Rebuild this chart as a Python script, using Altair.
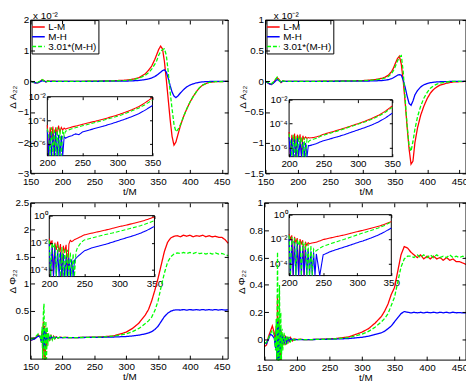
import altair as alt
import pandas as pd

SERIES = ["L-M", "M-H", "3.01*(M-H)"]
COLORS = ["#ff0000", "#0000ff", "#00ff00"]
DASHES = [[1, 0], [1, 0], [4, 2]]

X_TICKS = [150, 200, 250, 300, 350, 400, 450]
INSET_X_TICKS = [200, 250, 300, 350]

# ---------------- amplitude panels (units of 1e-2) ----------------
T_AMP = [150, 153, 156, 159, 162, 165, 168, 171, 174, 177, 180, 185, 190,
         200, 220, 240, 260, 280,
         300, 310, 320, 330, 335, 340, 345, 348, 351, 354,
         357, 360, 363, 366, 369, 372, 375, 378, 381, 385,
         390, 395, 400, 405, 410, 415, 420, 430, 440, 460]

TL_LM = [0.0, -0.02, -0.04, -0.05, -0.04, 0.0, 0.05, 0.03, -0.02, 0.02, 0.0, 0.01, 0.0,
         0.0, 0.0, 0.005, 0.01, 0.02,
         0.04, 0.07, 0.12, 0.25, 0.36, 0.5, 0.72, 0.88, 1.04, 1.15,
         1.06, 0.65, 0.05, -0.6, -1.25, -1.8, -2.08, -1.98, -1.75, -1.45,
         -1.15, -0.9, -0.68, -0.5, -0.34, -0.21, -0.12, -0.03, -0.01, 0.0]
TL_MH = [0.0, -0.02, -0.04, -0.05, -0.04, -0.01, 0.02, 0.01, -0.01, 0.0, 0.0, 0.0, 0.0,
         0.0, 0.0, 0.002, 0.004, 0.006,
         0.01, 0.018, 0.03, 0.06, 0.08, 0.11, 0.16, 0.2, 0.25, 0.3,
         0.35, 0.38, 0.3, 0.1, -0.14, -0.35, -0.48, -0.53, -0.48, -0.38,
         -0.27, -0.18, -0.12, -0.08, -0.05, -0.03, -0.015, -0.005, 0.0, 0.0]
TL_G = [0.0, -0.01, -0.03, -0.04, -0.02, 0.02, 0.06, 0.02, -0.03, 0.01, 0.0, 0.0, 0.0,
        0.0, 0.0, 0.004, 0.008, 0.015,
        0.03, 0.05, 0.1, 0.2, 0.28, 0.4, 0.56, 0.68, 0.85, 0.97,
        1.04, 1.06, 0.85, 0.3, -0.35, -0.9, -1.4, -1.64, -1.58, -1.42,
        -1.15, -0.9, -0.68, -0.5, -0.34, -0.21, -0.12, -0.03, -0.01, 0.0]

TR_LM = [0.0, -0.02, -0.04, -0.05, -0.03, 0.02, 0.06, 0.03, -0.02, 0.01, 0.0, 0.0, 0.0,
         0.0, 0.0, 0.003, 0.005, 0.008,
         0.012, 0.02, 0.03, 0.05, 0.07, 0.1, 0.16, 0.22, 0.3, 0.37,
         0.41, 0.28, 0.0, -0.35, -0.75, -1.1, -1.35, -1.3, -1.0, -0.76,
         -0.55, -0.4, -0.28, -0.19, -0.13, -0.09, -0.06, -0.03, -0.01, 0.0]
TR_MH = [0.0, -0.02, -0.04, -0.05, -0.03, 0.0, 0.03, 0.01, -0.01, 0.0, 0.0, 0.0, 0.0,
         0.0, 0.0, 0.001, 0.002, 0.003,
         0.004, 0.006, 0.009, 0.014, 0.02, 0.028, 0.045, 0.06, 0.08, 0.1,
         0.11, 0.1, 0.02, -0.1, -0.24, -0.36, -0.39, -0.32, -0.22, -0.15,
         -0.09, -0.055, -0.035, -0.022, -0.014, -0.009, -0.006, -0.003, 0.0, 0.0]
TR_G = [0.0, -0.01, -0.03, -0.04, -0.01, 0.03, 0.07, 0.02, -0.02, 0.01, 0.0, 0.0, 0.0,
        0.0, 0.0, 0.002, 0.004, 0.007,
        0.01, 0.016, 0.025, 0.04, 0.055, 0.08, 0.13, 0.18, 0.25, 0.33,
        0.4, 0.42, 0.15, -0.3, -0.72, -1.05, -1.14, -0.98, -0.78, -0.58,
        -0.4, -0.27, -0.18, -0.11, -0.07, -0.045, -0.03, -0.01, 0.0, 0.0]

# ---------------- phase panels ----------------
T_PH = [150, 153, 156, 159, 162, 165,
        167, 168, 169, 170, 171, 172, 173, 174, 175, 176, 177, 178,
        180, 182, 184, 186, 188, 190,
        193, 196, 200,
        205, 210, 220, 240, 260, 280,
        300, 310, 320, 330, 335, 340, 345, 350, 355, 360, 365, 370, 375, 380,
        385, 390, 395, 400, 405, 410, 415, 420, 425, 430, 435, 440, 445, 450, 455, 460]

BL_LM = [-0.05, -0.04, -0.02, 0.01, 0.05, 0.02,
         -0.06, 0.12, -0.25, 0.3, -0.5, 0.22, -0.5, 0.12, -0.18, 0.08, -0.08, 0.04,
         -0.04, 0.035, -0.03, 0.025, -0.02, 0.015,
         -0.01, 0.008, 0.0,
         0.004, 0.0, 0.0, 0.005, 0.012, 0.03,
         0.1, 0.17, 0.27, 0.42, 0.52, 0.68, 0.88, 1.1, 1.35, 1.6, 1.77, 1.85, 1.88, 1.89,
         1.87, 1.9, 1.88, 1.9, 1.87, 1.89, 1.88, 1.9, 1.87, 1.89, 1.87, 1.88, 1.86, 1.86, 1.82, 1.75]
BL_MH = [-0.05, -0.04, -0.03, 0.0, 0.03, 0.01,
         -0.08, 0.06, -0.15, 0.18, -0.2, 0.12, -0.18, 0.1, -0.1, 0.05, -0.05, 0.03,
         -0.03, 0.02, -0.015, 0.01, -0.01, 0.005,
         0.0, 0.0, 0.0,
         0.0, 0.0, 0.0, 0.002, 0.005, 0.01,
         0.02, 0.03, 0.045, 0.07, 0.085, 0.11, 0.15, 0.21, 0.3, 0.39, 0.45, 0.49, 0.51, 0.515,
         0.51, 0.52, 0.51, 0.52, 0.51, 0.52, 0.51, 0.52, 0.51, 0.52, 0.51, 0.52, 0.51, 0.52, 0.51, 0.515]
BL_G = [-0.03, -0.02, -0.01, 0.03, 0.07, 0.03,
        -0.1, 0.2, -0.5, 0.45, 0.63, -0.5, -0.5, 0.3, -0.5, 0.2, -0.15, 0.08,
        -0.06, 0.05, -0.04, 0.03, -0.02, 0.015,
        -0.01, 0.008, 0.0,
        0.003, 0.0, 0.0, 0.004, 0.01, 0.025,
        0.07, 0.11, 0.17, 0.26, 0.31, 0.38, 0.5, 0.68, 0.95, 1.2, 1.4, 1.5, 1.55, 1.57,
        1.56, 1.58, 1.56, 1.58, 1.56, 1.58, 1.56, 1.57, 1.55, 1.57, 1.55, 1.57, 1.55, 1.56, 1.54, 1.52]

BR_LM = [-0.05, -0.04, 0.02, 0.06, 0.1, 0.05,
         -0.05, 0.1, -0.2, 0.32, -0.2, 0.15, -0.2, 0.1, -0.2, 0.06, -0.06, 0.04,
         -0.04, 0.03, -0.035, 0.02, -0.02, 0.015,
         -0.01, 0.005, 0.0,
         0.003, 0.0, 0.0, 0.003, 0.008, 0.02,
         0.055, 0.08, 0.12, 0.17, 0.21, 0.26, 0.33, 0.38, 0.5, 0.62, 0.68, 0.67, 0.64, 0.62,
         0.6, 0.62, 0.59, 0.61, 0.59, 0.61, 0.59, 0.6, 0.58, 0.6, 0.58, 0.59, 0.57, 0.57, 0.56, 0.55]
BR_MH = [-0.02, -0.03, 0.0, 0.04, 0.03, 0.01,
         -0.06, 0.08, -0.15, 0.14, -0.2, 0.12, -0.15, 0.08, -0.08, 0.04, -0.04, 0.03,
         -0.03, 0.02, -0.02, 0.01, -0.01, 0.005,
         0.0, 0.0, 0.0,
         0.0, 0.0, 0.0, 0.002, 0.004, 0.008,
         0.017, 0.025, 0.038, 0.05, 0.062, 0.08, 0.1, 0.13, 0.16, 0.19, 0.205, 0.2, 0.195, 0.2,
         0.195, 0.2, 0.195, 0.2, 0.196, 0.2, 0.195, 0.2, 0.196, 0.2, 0.195, 0.2, 0.196, 0.198, 0.195, 0.195]
BR_G = [-0.03, -0.02, 0.01, 0.04, 0.07, 0.03,
        -0.08, 0.15, -0.2, 0.64, -0.2, -0.2, 0.4, -0.2, 0.2, -0.2, 0.08, -0.08,
        0.05, -0.04, 0.03, -0.03, 0.02, -0.015,
        0.01, -0.005, 0.0,
        0.002, 0.0, 0.0, 0.002, 0.006, 0.015,
        0.04, 0.06, 0.09, 0.13, 0.155, 0.19, 0.25, 0.31, 0.42, 0.53, 0.59, 0.61, 0.61, 0.6,
        0.62, 0.6, 0.62, 0.6, 0.62, 0.6, 0.62, 0.6, 0.61, 0.6, 0.62, 0.6, 0.61, 0.6, 0.61, 0.6]

# ---------------- insets (absolute values, log axis; 1e-9 = below the axis) ----------------
TI_AMP = [200, 202, 204, 206, 208, 210, 212, 214, 216, 218, 220, 222, 224, 226, 228, 230,
          235, 240, 245, 250, 260, 270, 280, 290, 300, 310, 320, 330, 340, 350]

TLI_LM = [4e-5, 1e-9, 2.5e-5, 3e-6, 3e-5, 1e-9, 2.5e-5, 6e-6, 3.5e-5, 1e-5, 2.5e-5, 1.5e-5, 2.2e-5, 1.8e-5, 2e-5, 2.2e-5,
          2.7e-5, 3.2e-5, 3.8e-5, 4.5e-5, 6.3e-5, 8.9e-5, 1.26e-4, 1.86e-4, 2.8e-4, 4.5e-4, 7.6e-4, 1.4e-3, 3.2e-3, 8.5e-3]
TLI_MH = [1.5e-5, 1e-9, 1e-5, 1e-9, 8e-6, 1e-9, 1e-5, 1e-9, 6e-6, 1e-9, 5e-6, 1e-9, 4e-6, 3e-6, 3.5e-6, 4e-6,
          5e-6, 7e-6, 6e-6, 1e-5, 1.5e-5, 2.2e-5, 3.2e-5, 4.8e-5, 7.5e-5, 1.2e-4, 2e-4, 3.5e-4, 7.5e-4, 1.8e-3]
TLI_G = [2e-5, 5e-6, 1e-9, 2.5e-5, 1e-9, 2e-5, 1e-9, 2.5e-5, 1e-9, 2e-5, 1e-9, 1.5e-5, 5e-6, 1.2e-5, 1.3e-5, 1.5e-5,
         1.9e-5, 2.3e-5, 2.8e-5, 3.4e-5, 4.9e-5, 7e-5, 1e-4, 1.5e-4, 2.2e-4, 3.5e-4, 6e-4, 1.05e-3, 2.2e-3, 5.5e-3]

TRI_LM = [2e-5, 1e-9, 1.2e-5, 3e-6, 1.5e-5, 1e-9, 1.2e-5, 4e-6, 1.3e-5, 1e-9, 1e-5, 5e-6, 8e-6, 6e-6, 7e-6, 6.5e-6,
          7e-6, 8e-6, 1e-5, 1.3e-5, 1.9e-5, 2.8e-5, 4.2e-5, 6.5e-5, 1e-4, 1.6e-4, 2.7e-4, 5e-4, 1.1e-3, 3e-3]
TRI_MH = [8e-6, 1e-9, 6e-6, 1e-9, 5e-6, 1e-9, 6e-6, 1e-9, 4e-6, 1e-9, 3e-6, 1e-9, 2.5e-6, 1e-9, 1.5e-6, 1.5e-6,
          1.8e-6, 2.2e-6, 3e-6, 3.8e-6, 5.5e-6, 8e-6, 1.2e-5, 1.9e-5, 3e-5, 4.7e-5, 7.8e-5, 1.4e-4, 3e-4, 7.5e-4]
TRI_G = [1.5e-5, 3e-6, 1e-9, 1.2e-5, 1e-9, 1e-5, 1e-9, 1e-5, 2e-6, 8e-6, 1e-9, 7e-6, 1e-9, 5e-6, 3e-6, 4e-6,
         5e-6, 6e-6, 8.5e-6, 1.1e-5, 1.6e-5, 2.4e-5, 3.7e-5, 5.8e-5, 9e-5, 1.4e-4, 2.3e-4, 4.2e-4, 9e-4, 2.3e-3]

TI_PH = [200, 202, 204, 206, 208, 210, 212, 214, 216, 218, 220, 222, 224, 226, 228, 230, 232, 234, 236, 238, 240,
         245, 250, 260, 270, 280, 290, 300, 310, 320, 330, 340, 350]

BLI_LM = [2e-2, 8e-3, 1.5e-2, 1e-9, 1e-2, 3e-3, 1.2e-2, 2e-3, 8e-3, 1e-9, 6e-3, 2e-3, 7e-3, 1e-9, 8e-3, 1.5e-2,
          1.2e-2, 1.4e-2, 1.7e-2, 1.9e-2, 2.1e-2,
          2.8e-2, 3.8e-2, 5e-2, 6.5e-2, 8.5e-2, 1.15e-1, 1.55e-1, 2e-1, 2.7e-1, 3.6e-1, 5.2e-1, 8e-1]
BLI_MH = [8e-3, 1e-9, 6e-3, 1e-9, 5e-3, 1e-9, 3e-3, 1e-9, 2e-3, 1e-9, 1.5e-3, 1e-9, 1e-3, 1e-9, 8e-4, 1e-9,
          6e-4, 1e-9, 5e-4, 7e-4, 9e-4,
          1.5e-3, 2.5e-3, 4e-3, 5.5e-3, 7.5e-3, 1.1e-2, 1.6e-2, 2.3e-2, 3.3e-2, 5e-2, 8.5e-2, 1.6e-1]
BLI_G = [1.5e-2, 1e-9, 1e-2, 4e-3, 8e-3, 1e-9, 7e-3, 3e-3, 1e-9, 5e-3, 1e-9, 4e-3, 1e-9, 3e-3, 1e-9, 2e-3,
         1e-9, 1.5e-3, 1e-9, 2e-3, 4e-3,
         1e-2, 1.6e-2, 2.2e-2, 3e-2, 4e-2, 5.2e-2, 7e-2, 9.5e-2, 1.3e-1, 1.8e-1, 2.7e-1, 4.3e-1]

BRI_LM = [2.5e-2, 1e-2, 2e-2, 1e-9, 1.5e-2, 5e-3, 1.2e-2, 1e-9, 1e-2, 4e-3, 8e-3, 1e-9, 6e-3, 3e-3, 5e-3, 4e-3,
          4.5e-3, 4.8e-3, 5e-3, 5.2e-3, 5.5e-3,
          7e-3, 9e-3, 1.2e-2, 1.6e-2, 2.1e-2, 2.9e-2, 4e-2, 5.5e-2, 7.5e-2, 1.05e-1, 1.6e-1, 2.7e-1]
BRI_MH = [1e-2, 1e-9, 8e-3, 1e-9, 6e-3, 1e-9, 5e-3, 1e-9, 3e-3, 1e-9, 2.5e-3, 1e-9, 2e-3, 1e-9, 1.5e-3, 1e-9,
          1e-3, 1e-9, 8e-4, 1e-9, 6e-4,
          1e-9, 5e-4, 9e-4, 1.4e-3, 2.1e-3, 3.2e-3, 5e-3, 7.5e-3, 1.2e-2, 2e-2, 3.8e-2, 8e-2]
BRI_G = [2e-2, 1e-9, 1.5e-2, 5e-3, 1.2e-2, 1e-9, 1e-2, 3e-3, 8e-3, 1e-9, 6e-3, 2e-3, 5e-3, 1e-9, 4e-3, 1e-9,
         3e-3, 1e-9, 1.5e-3, 1e-3, 1.1e-3,
         1.8e-3, 2.5e-3, 4e-3, 6e-3, 9e-3, 1.4e-2, 2.2e-2, 3.3e-2, 5e-2, 7.8e-2, 1.3e-1, 2.5e-1]

# ---------------- layout ----------------
W, H = 466, 373
FONT = "Liberation Sans"
ONE = pd.DataFrame({"k": [0]})

LOG_LABEL = ("'10' + replace(replace(replace(replace(replace(replace("
             "toString(round(log(datum.value) / LN10)), '-', '\u207b'), '0', '\u2070'), "
             "'2', '\u00b2'), '4', '\u2074'), '6', '\u2076'), '8', '\u2078')")


def long_df(t, lists):
    rows = []
    for name, vals in zip(SERIES, lists):
        for ti, vi in zip(t, vals):
            rows.append({"t": ti, "v": vi, "s": name})
    return pd.DataFrame(rows)


def lin(dom, rng):
    return alt.Scale(type="linear", domain=dom, range=rng, nice=False, zero=False, clamp=True)


def logsc(dom, rng):
    return alt.Scale(type="log", domain=dom, range=rng, nice=False, clamp=True)


def tick_axis(orient, offset, values, size=4, **kw):
    return alt.Axis(orient=orient, offset=offset, values=values, labels=False, domain=False,
                    grid=False, ticks=True, tickSize=size, tickColor="black", zindex=1, **kw)


def make_legend(x, y):
    return alt.Legend(orient="none", legendX=x, legendY=y, title=None, strokeColor="black",
                      fillColor="white", padding=2, rowPadding=0, symbolType="M-1.6,0H1.6",
                      symbolSize=64, symbolStrokeWidth=1.5, labelFontSize=10, labelFont=FONT,
                      labelColor="black", labelOffset=5, cornerRadius=0)


def panel(df, idf, box, ydom, yticks, ytitle, ytx, ibox, idom, iticks, legend=None, exp=None):
    x0, x1, y0, y1 = box
    xsc = lin([150, 460], [x0, x1])
    ysc = lin(ydom, [y1, y0])
    col_scale = alt.Scale(domain=SERIES, range=COLORS)
    dash_scale = alt.Scale(domain=SERIES, range=DASHES)
    leg = make_legend(*legend) if legend else None

    lines = alt.Chart(df).mark_line(strokeWidth=1.3).encode(
        x=alt.X("t:Q", scale=xsc, axis=alt.Axis(
            orient="bottom", offset=y1 - H, values=X_TICKS, format="d", ticks=False, domain=False,
            grid=False, labelPadding=3, labelFlush=False, title="t/M", titleX=(x0 + x1) / 2,
            titleY=13, titleBaseline="top", titleAlign="center")),
        y=alt.Y("v:Q", scale=ysc, axis=alt.Axis(
            orient="left", offset=-x0, values=yticks, format="~g", ticks=False, domain=False,
            grid=False, labelPadding=2, title=ytitle, titleX=ytx - x0, titleY=(y0 + y1) / 2,
            titleAngle=270, titleBaseline="middle", titleAlign="center")),
        color=alt.Color("s:N", scale=col_scale, legend=leg),
        strokeDash=alt.StrokeDash("s:N", scale=dash_scale, legend=leg),
    )

    frame = alt.Chart(ONE).mark_rect(fillOpacity=0, stroke="black", strokeWidth=1).encode(
        x=alt.XDatum(150, type="quantitative", scale=xsc,
                     axis=tick_axis("bottom", y1 - 4 - H, X_TICKS, title=None)),
        x2=alt.X2Datum(460),
        y=alt.YDatum(ydom[0], type="quantitative", scale=ysc,
                     axis=tick_axis("left", -(x0 + 4), yticks, title=None)),
        y2=alt.Y2Datum(ydom[1]),
    )

    if exp:
        top_axis = tick_axis("top", -(y0 + 4), X_TICKS, title=exp[0], titleX=exp[1],
                             titleY=-6, titleBaseline="alphabetic", titleAlign="left",
                             titleAngle=0)
    else:
        top_axis = tick_axis("top", -(y0 + 4), X_TICKS, title=None)
    tr = alt.Chart(ONE).mark_rect(opacity=0).encode(
        x=alt.XDatum(150, type="quantitative", scale=xsc, axis=top_axis),
        x2=alt.X2Datum(460),
        y=alt.YDatum(ydom[0], type="quantitative", scale=ysc,
                     axis=tick_axis("right", x1 - 4 - W, yticks, title=None)),
        y2=alt.Y2Datum(ydom[1]),
    )

    ix0, ix1, iy0, iy1 = ibox
    ixs = lin([200, 350], [ix0, ix1])
    iys = logsc(idom, [iy1, iy0])
    ibg = alt.Chart(ONE).mark_rect(fill="white", stroke="black", strokeWidth=1).encode(
        x=alt.XDatum(200, type="quantitative", scale=ixs,
                     axis=tick_axis("bottom", iy1 - 3 - H, INSET_X_TICKS, size=3, title=None)),
        x2=alt.X2Datum(350),
        y=alt.YDatum(idom[0], type="quantitative", scale=iys,
                     axis=tick_axis("left", -(ix0 + 3), iticks, size=3, title=None)),
        y2=alt.Y2Datum(idom[1]),
    )
    ilines = alt.Chart(idf).mark_line(strokeWidth=1.1).encode(
        x=alt.X("t:Q", scale=ixs, axis=alt.Axis(
            orient="bottom", offset=iy1 - H, values=INSET_X_TICKS, format="d", ticks=False,
            domain=False, grid=False, labelPadding=2, labelFlush=False, title=None)),
        y=alt.Y("v:Q", scale=iys, axis=alt.Axis(
            orient="left", offset=-ix0, values=iticks, ticks=False, domain=False, grid=False,
            labelPadding=2, labelExpr=LOG_LABEL, title=None)),
        color=alt.Color("s:N", scale=col_scale, legend=None),
        strokeDash=alt.StrokeDash("s:N", scale=dash_scale, legend=None),
    )
    itr = alt.Chart(ONE).mark_rect(opacity=0).encode(
        x=alt.XDatum(200, type="quantitative", scale=ixs,
                     axis=tick_axis("top", -(iy0 + 3), INSET_X_TICKS, size=3, title=None)),
        x2=alt.X2Datum(350),
        y=alt.YDatum(idom[0], type="quantitative", scale=iys,
                     axis=tick_axis("right", ix1 - 3 - W, iticks, size=3, title=None)),
        y2=alt.Y2Datum(idom[1]),
    )
    return [lines, frame, tr, ibg, ilines, itr]


layers = []
layers += panel(long_df(T_AMP, [TL_LM, TL_MH, TL_G]), long_df(TI_AMP, [TLI_LM, TLI_MH, TLI_G]),
                (23, 224, 9, 165), [-3, 2], [-3, -2, -1, 0, 1, 2], "\u0394 A\u2082\u2082", 5,
                (40, 147, 87, 147), [1e-7, 1e-2], [1e-6, 1e-4, 1e-2],
                legend=(24, 9), exp=("x 10\u207b\u00b2", 25))
layers += panel(long_df(T_AMP, [TR_LM, TR_MH, TR_G]), long_df(TI_AMP, [TRI_LM, TRI_MH, TRI_G]),
                (262, 466, 9, 165), [-1.5, 1], [-1.5, -1, -0.5, 0, 0.5, 1], "\u0394 A\u2082\u2082", 239,
                (286, 391, 90, 148), [1.8e-7, 1e-2], [1e-6, 1e-4, 1e-2],
                legend=(263, 9), exp=("x 10\u207b\u00b2", 270))
layers += panel(long_df(T_PH, [BL_LM, BL_MH, BL_G]), long_df(TI_PH, [BLI_LM, BLI_MH, BLI_G]),
                (23, 224, 195, 354), [-0.4, 2.5], [0, 0.5, 1, 1.5, 2, 2.5], "\u0394 \u03a6\u2082\u2082", 5,
                (42, 149, 208, 270), [3.16e-5, 1], [1e-4, 1e-2, 1])
layers += panel(long_df(T_PH, [BR_LM, BR_MH, BR_G]), long_df(TI_PH, [BRI_LM, BRI_MH, BRI_G]),
                (261, 466, 195, 355), [-0.15, 1], [0, 0.2, 0.4, 0.6, 0.8, 1], "\u0394 \u03a6\u2082\u2082", 238,
                (286, 390, 207, 269), [1e-5, 1], [1e-4, 1e-2, 1])

chart = alt.layer(*layers).resolve_scale(
    x="independent", y="independent", color="independent", strokeDash="independent"
).properties(
    width=W, height=H, autosize=alt.AutoSizeParams(type="none"), padding=0, background="white"
).configure_view(stroke=None).configure_axis(
    labelFont=FONT, labelFontSize=10, labelColor="black", titleFont=FONT, titleFontSize=10,
    titleColor="black", titleFontWeight="normal", tickColor="black", domainColor="black", grid=False
)

chart.save("out.html", embed_options={"renderer": "svg", "actions": False})
